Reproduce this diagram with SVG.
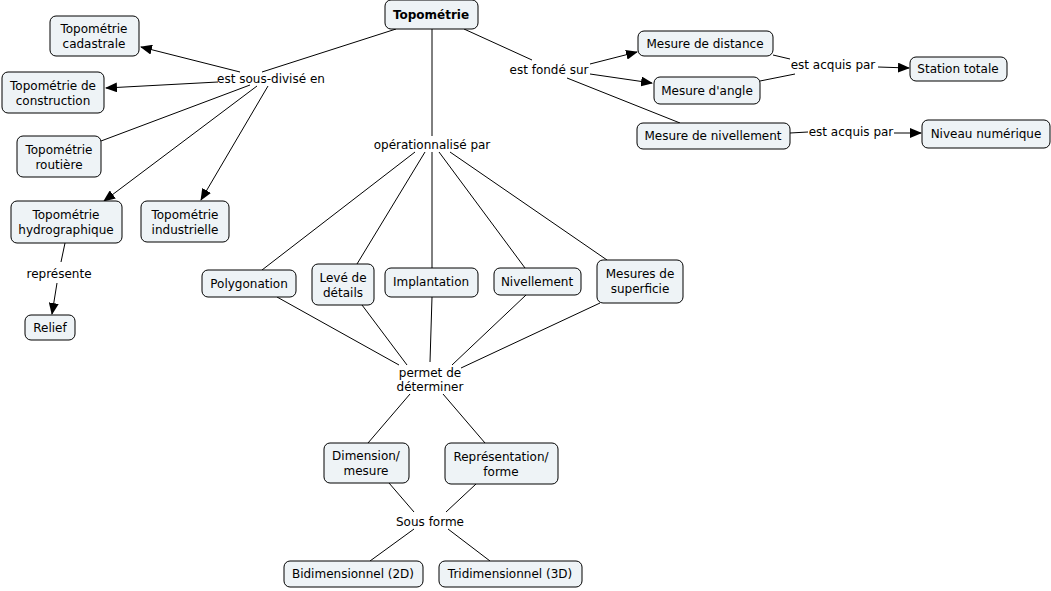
<svg xmlns="http://www.w3.org/2000/svg" width="1051" height="591" viewBox="0 0 1051 591">
<style>
.n rect{fill:#eef3f6;stroke:#000;stroke-width:1}
text{font-family:"DejaVu Sans",Verdana,sans-serif;font-size:12px;fill:#000;text-anchor:middle}
.c line{stroke:#000;stroke-width:1}
.b{font-weight:bold}
</style>
<defs><marker id="a" markerWidth="12" markerHeight="10" refX="11" refY="5" orient="auto" markerUnits="userSpaceOnUse"><path d="M0,0L12,5L0,10z" fill="#000"/></marker></defs>
<rect width="1051" height="591" fill="#fff"/>
<g class="c">
<line x1="396" y1="29" x2="262" y2="72"/>
<line x1="240" y1="72" x2="141" y2="47" marker-end="url(#a)"/>
<line x1="218" y1="82" x2="106" y2="88" marker-end="url(#a)"/>
<line x1="250" y1="85" x2="101" y2="141"/>
<line x1="257" y1="86" x2="104" y2="201" marker-end="url(#a)"/>
<line x1="268" y1="86" x2="201" y2="200" marker-end="url(#a)"/>
<line x1="65" y1="243" x2="61" y2="262"/>
<line x1="57" y1="283" x2="52" y2="314" marker-end="url(#a)"/>
<line x1="464" y1="29" x2="532" y2="60"/>
<line x1="590" y1="64" x2="637" y2="52" marker-end="url(#a)"/>
<line x1="590" y1="74" x2="652" y2="83" marker-end="url(#a)"/>
<line x1="567" y1="78" x2="680" y2="123"/>
<line x1="773" y1="55" x2="790" y2="59"/>
<line x1="760" y1="81" x2="795" y2="74"/>
<line x1="878" y1="67" x2="909" y2="68" marker-end="url(#a)"/>
<line x1="790" y1="133" x2="808" y2="132"/>
<line x1="894" y1="133" x2="921" y2="133" marker-end="url(#a)"/>
<line x1="432" y1="29" x2="432" y2="136"/>
<line x1="415" y1="152" x2="262" y2="270"/>
<line x1="425" y1="152" x2="357" y2="264"/>
<line x1="432" y1="152" x2="432" y2="268"/>
<line x1="439" y1="152" x2="525" y2="268"/>
<line x1="450" y1="152" x2="607" y2="260"/>
<line x1="277" y1="297" x2="399" y2="365"/>
<line x1="362" y1="305" x2="407" y2="365"/>
<line x1="432" y1="297" x2="430" y2="362"/>
<line x1="526" y1="295" x2="452" y2="365"/>
<line x1="600" y1="303" x2="461" y2="368"/>
<line x1="410" y1="394" x2="368" y2="443"/>
<line x1="443" y1="394" x2="485" y2="443"/>
<line x1="389" y1="483" x2="414" y2="512"/>
<line x1="476" y1="484" x2="446" y2="512"/>
<line x1="414" y1="529" x2="370" y2="561"/>
<line x1="448" y1="529" x2="490" y2="561"/>
</g>
<g id="labels">
<text x="271" y="83">est sous-divisé en</text>
<text x="549" y="74">est fondé sur</text>
<text x="833" y="69">est acquis par</text>
<text x="851" y="136">est acquis par</text>
<text x="432" y="149">opérationnalisé par</text>
<text x="430" y="377">permet de</text>
<text x="430" y="391">déterminer</text>
<text x="430" y="526">Sous forme</text>
<text x="59" y="278">représente</text>
</g>
<g id="topometrie" class="n"><rect x="385" y="0" width="93" height="29" rx="6"/><text x="431" y="19" class="b">Topométrie</text></g>
<g id="cadastrale" class="n"><rect x="50" y="16" width="89" height="40" rx="6"/><text x="94" y="33">Topométrie</text><text x="94" y="48">cadastrale</text></g>
<g id="construction" class="n"><rect x="2" y="72" width="102" height="41" rx="6"/><text x="53" y="90">Topométrie de</text><text x="53" y="105">construction</text></g>
<g id="routiere" class="n"><rect x="17" y="136" width="84" height="41" rx="6"/><text x="59" y="154">Topométrie</text><text x="59" y="169">routière</text></g>
<g id="hydro" class="n"><rect x="11" y="201" width="111" height="42" rx="6"/><text x="66" y="219">Topométrie</text><text x="66" y="234">hydrographique</text></g>
<g id="industrielle" class="n"><rect x="141" y="201" width="88" height="41" rx="6"/><text x="185" y="219">Topométrie</text><text x="185" y="234">industrielle</text></g>
<g id="relief" class="n"><rect x="25" y="315" width="50" height="25" rx="6"/><text x="50" y="332">Relief</text></g>
<g id="distance" class="n"><rect x="638" y="31" width="135" height="25" rx="6"/><text x="705" y="48">Mesure de distance</text></g>
<g id="angle" class="n"><rect x="654" y="77" width="106" height="27" rx="6"/><text x="707" y="95">Mesure d'angle</text></g>
<g id="nivmes" class="n"><rect x="637" y="123" width="153" height="26" rx="6"/><text x="713" y="140">Mesure de nivellement</text></g>
<g id="station" class="n"><rect x="910" y="57" width="97" height="24" rx="6"/><text x="958" y="73">Station totale</text></g>
<g id="niveau" class="n"><rect x="922" y="120" width="128" height="28" rx="6"/><text x="986" y="138">Niveau numérique</text></g>
<g id="polygonation" class="n"><rect x="202" y="270" width="94" height="27" rx="6"/><text x="249" y="288">Polygonation</text></g>
<g id="leve" class="n"><rect x="312" y="264" width="62" height="41" rx="6"/><text x="343" y="282">Levé de</text><text x="343" y="297">détails</text></g>
<g id="implantation" class="n"><rect x="385" y="268" width="93" height="29" rx="6"/><text x="431" y="286">Implantation</text></g>
<g id="nivellement" class="n"><rect x="494" y="268" width="87" height="27" rx="6"/><text x="537" y="286">Nivellement</text></g>
<g id="superficie" class="n"><rect x="597" y="260" width="86" height="43" rx="6"/><text x="640" y="278">Mesures de</text><text x="640" y="293">superficie</text></g>
<g id="dimension" class="n"><rect x="324" y="443" width="85" height="40" rx="6"/><text x="366" y="460">Dimension/</text><text x="366" y="475">mesure</text></g>
<g id="representation" class="n"><rect x="445" y="443" width="113" height="41" rx="6"/><text x="501" y="461">Représentation/</text><text x="501" y="476">forme</text></g>
<g id="bidim" class="n"><rect x="284" y="561" width="139" height="26" rx="6"/><text x="353" y="578">Bidimensionnel (2D)</text></g>
<g id="tridim" class="n"><rect x="439" y="561" width="143" height="26" rx="6"/><text x="510" y="578">Tridimensionnel (3D)</text></g>
</svg>
